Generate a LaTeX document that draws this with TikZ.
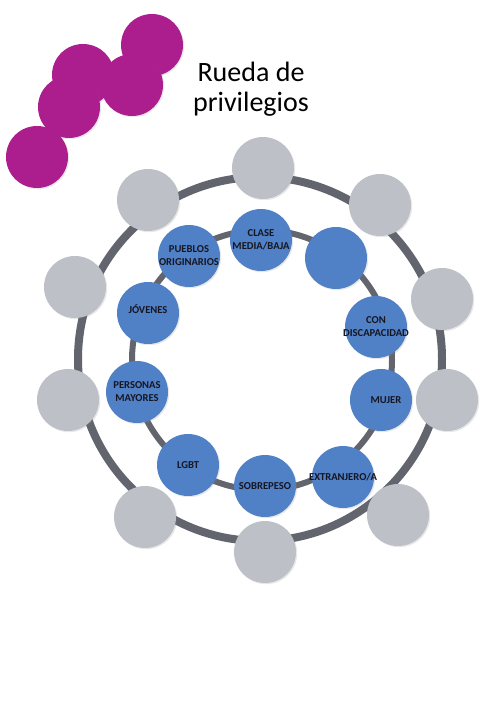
\documentclass[tikz,border=0pt]{standalone}
\usepackage{fontspec}
\setmainfont{Carlito}
\usetikzlibrary{positioning,shadows}
\definecolor{magentadot}{HTML}{AC1E8E}
\definecolor{graydot}{HTML}{BEC0C8}
\definecolor{bluedot}{HTML}{5080C5}
\definecolor{ringgray}{HTML}{62656D}
\definecolor{labtext}{HTML}{161622}
\begin{document}
\begin{tikzpicture}[x=1pt,y=-1pt,
  dot/.style={circle,inner sep=0pt,minimum size=62pt,
    drop shadow={opacity=0.18,shadow xshift=1.2pt,shadow yshift=-1.2pt}},
  pink/.style={dot,fill=magentadot},
  outerdot/.style={dot,fill=graydot},
  innerdot/.style={dot,fill=bluedot},
  lab/.style={font=\fontsize{10.6}{13}\selectfont\bfseries,align=center,text=labtext,inner sep=0pt},
  ring/.style={draw=ringgray}]
\useasboundingbox[fill=white] (0,0) rectangle (500,708);
% decoration top left
\node[pink] (m1) at (152,45) {};
\node[pink] (m2) at (83,75) {};
\node[pink] (m3) at (132,85) {};
\node[pink] (m4) at (69,107) {};
\node[pink] (m5) at (37,157) {};
% title
\node[font=\fontsize{28}{30}\selectfont,align=center] (title) at (251,89) {Rueda de\\privilegios};
% rings
\coordinate (oc) at (260,359);
\coordinate (ic) at (262,360);
\draw[ring,line width=8pt] (oc) circle[radius=182];
\draw[ring,line width=6pt] (ic) circle[radius=130];
% outer gray circles
\foreach \n/\p in {1/{263,168},2/{380,205},3/{442,299},4/{447,400},5/{398,515},
    6/{265,552},7/{145,517},8/{68,400},9/{75,287},10/{148,200}}
  \node[outerdot] (o\n) at (\p) {};
% inner blue circles
\node[innerdot,label={[lab]center:CLASE\\MEDIA/BAJA}] (clase) at (261,240) {};
\node[innerdot] (blank) at (336,258) {};
\node[innerdot,label={[lab]center:CON\\DISCAPACIDAD}] (discap) at (376,327) {};
\node[innerdot,label={[lab,xshift=5pt]center:MUJER}] (mujer) at (381,400) {};
\node[innerdot,label={[lab]center:EXTRANJERO/A}] (extra) at (343,477) {};
\node[innerdot,label={[lab]center:SOBREPESO}] (sobre) at (265,486) {};
\node[innerdot,label={[lab]center:LGBT}] (lgbt) at (188,465) {};
\node[innerdot,label={[lab]center:PERSONAS\\MAYORES}] (mayores) at (137,392) {};
\node[innerdot,label={[lab,yshift=4pt]center:JÓVENES}] (jovenes) at (148,313) {};
\node[innerdot,label={[lab]center:PUEBLOS\\ORIGINARIOS}] (pueblos) at (189,256) {};
\end{tikzpicture}
\end{document}
